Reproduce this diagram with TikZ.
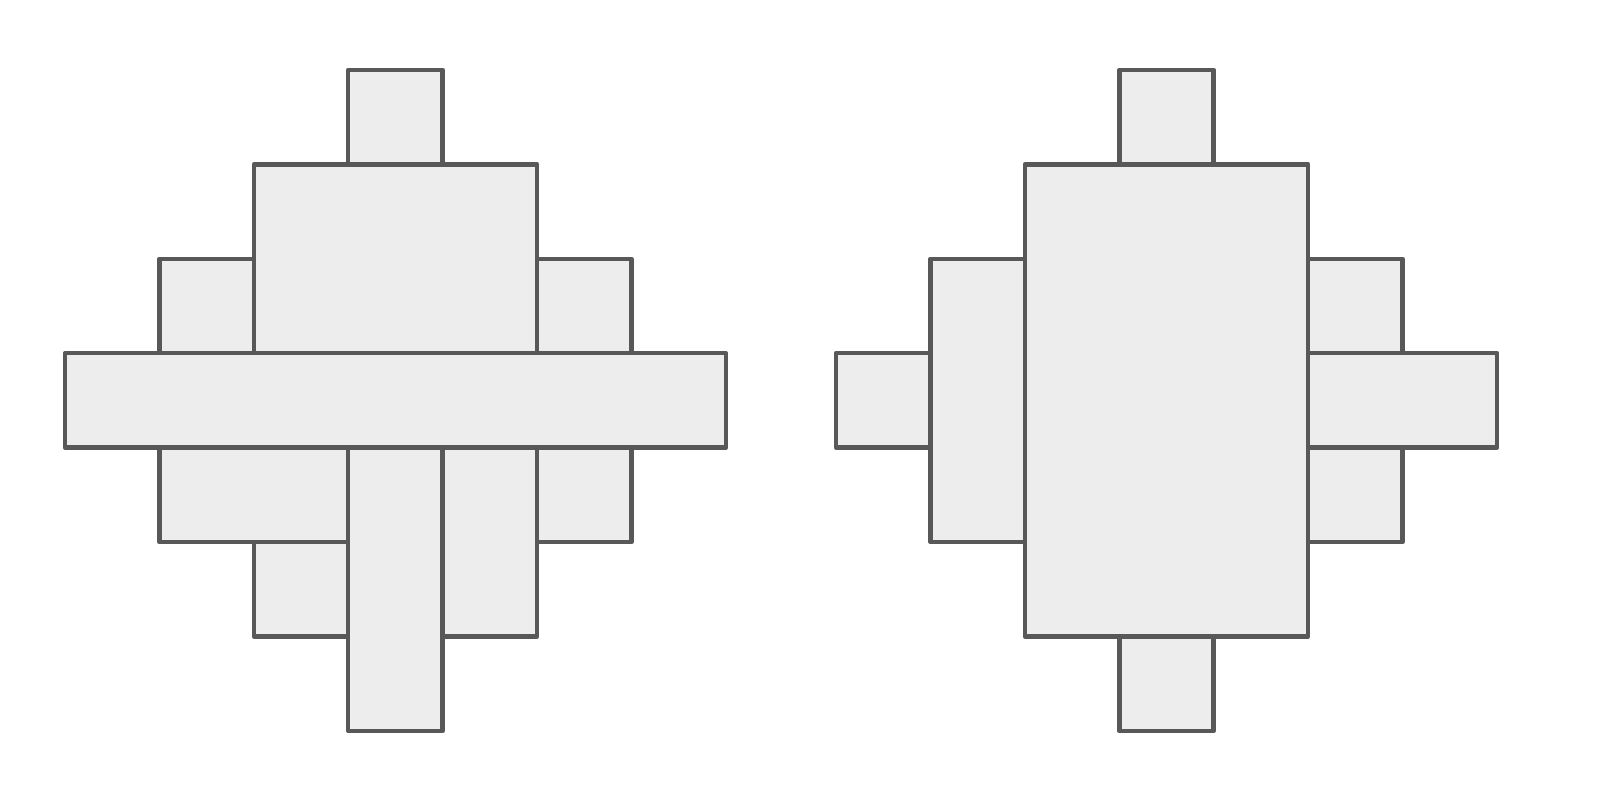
\documentclass[tikz,border=0pt]{standalone}
\usepackage{tikz}
\definecolor{tileline}{HTML}{585858}
\definecolor{tilefill}{HTML}{EDEDED}
\tikzstyle{tile}=[draw=tileline, fill=tilefill, line width=1.35pt, line join=round]

\begin{document}
\begin{tikzpicture}
                \useasboundingbox (0,0) rectangle (16.944,-8.567);
                % left figure
                \begin{scope}[shift={(0.688,-0.741)}, y=-1cm]
                \draw[tile] (3,0) rectangle (4,1);
                \draw[tile] (2,1) rectangle (5,3);
                \draw[tile] (1,2) rectangle (2,3);
                \draw[tile] (5,2) rectangle (6,3);
                \draw[tile] (0,3) rectangle (7,4);
                \draw[tile] (1,4) rectangle (3,5);
                \draw[tile] (4,4) rectangle (5,6);
                \draw[tile] (5,4) rectangle (6,5);
                \draw[tile] (2,5) rectangle (3,6);
                \draw[tile] (3,4) rectangle (4,7);
                \end{scope}
                % right figure
                \begin{scope}[shift={(8.853,-0.741)}, y=-1cm]
                \draw[tile] (3,0) rectangle (4,1);
                \draw[tile] (2,1) rectangle (5,6);
                \draw[tile] (1,2) rectangle (2,5);
                \draw[tile] (0,3) rectangle (1,4);
                \draw[tile] (5,2) rectangle (6,3);
                \draw[tile] (5,3) rectangle (7,4);
                \draw[tile] (5,4) rectangle (6,5);
                \draw[tile] (3,6) rectangle (4,7);
                \end{scope}
            \end{tikzpicture}
\end{document}
